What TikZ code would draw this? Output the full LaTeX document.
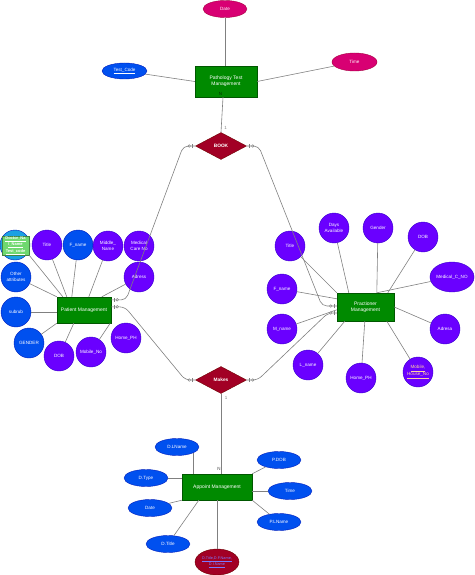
\documentclass[tikz,border=0pt]{standalone}
\usepackage{fontspec}
\setmainfont{Liberation Sans}
\usetikzlibrary{shapes.geometric}
\definecolor{entg}{HTML}{008A00}
\definecolor{entb}{HTML}{005700}
\definecolor{purp}{HTML}{6A00FF}
\definecolor{purpb}{HTML}{3700CC}
\definecolor{blu}{HTML}{0050EF}
\definecolor{blub}{HTML}{001DBC}
\definecolor{mag}{HTML}{D80073}
\definecolor{magb}{HTML}{A50040}
\definecolor{crim}{HTML}{A20025}
\definecolor{crimb}{HTML}{6F0000}
\definecolor{cyanb}{HTML}{1BA1E2}
\definecolor{lgreen}{HTML}{6FD86F}
\definecolor{linec}{HTML}{808080}
\definecolor{mobtxt}{HTML}{FFD0A0}
\definecolor{crimtxt}{HTML}{7A7AFF}
\begin{document}
\begin{tikzpicture}[x=1pt,y=-1pt,
  ent/.style={rectangle,draw=entb,fill=entg,text=white,inner sep=0,align=center,font=\fontsize{5}{6}\selectfont},
  attr/.style={circle,minimum size=30pt,inner sep=0,text=white,align=center,font=\fontsize{4.6}{5.4}\selectfont},
  pu/.style={attr,fill=purp,draw=purpb},
  bl/.style={attr,fill=blu,draw=blub},
  ell/.style={ellipse,minimum width=44pt,minimum height=17pt,inner sep=0,text=white,align=center,font=\fontsize{4.6}{5.4}\selectfont},
  el/.style={ell,fill=blu,draw=blub},
  em/.style={ell,fill=mag,draw=magb},
  rel/.style={diamond,fill=crim,draw=crimb,minimum width=51pt,minimum height=27pt,inner sep=0,text=white,font=\bfseries\fontsize{4.8}{5.6}\selectfont},
  ln/.style={draw=linec,line width=0.6pt},
  cn/.style={draw=linec,line width=0.6pt,rounded corners=5pt},
  mk/.style={draw=linec,fill=white,line width=0.5pt},
  lab/.style={font=\fontsize{4.5}{5}\selectfont,inner sep=0}
]
\useasboundingbox (0,0) rectangle (474,575);

% ---------- Pathology ----------
\node[ent,minimum width=62pt,minimum height=31pt] (path) at (226,81.5) {Pathology Test\\Management};
\node[em] (date) at (225,9) {Date};
\node[em,minimum width=45pt,minimum height=18pt] (time) at (354.5,62) {Time};
\node[el,minimum width=45pt,minimum height=16pt] (tcode) at (124.5,71) {\underline{Test\_Code}};
\node[rel] (book) at (221,146) {BOOK};

% ---------- Patient ----------
\node[ent,minimum width=54pt,minimum height=26pt] (pat) at (84,310) {Patient Management};
\node[attr,fill=cyanb,draw=blub] (docc) at (15,245) {};
\node[rectangle,fill=lgreen,draw=lgreen!60!black,minimum width=27pt,minimum height=19pt,inner sep=0,text=white,align=center,font=\bfseries\fontsize{4}{4.8}\selectfont] (doc) at (15.5,245.5) {\underline{Doctor\_Na}\\\underline{l\_Name}\\\underline{Test\_code}};
\node[pu] (ptitle) at (47,245) {Title};
\node[bl] (pfname) at (78,245) {F\_name};
\node[pu] (pmid) at (108,246) {Middle\_\\Name};
\node[pu] (pmed) at (139,246) {Medical\\Care No};
\node[bl] (pother) at (16,277) {Other\\attributes};
\node[pu] (padr) at (139,277) {Adress};
\node[bl] (psub) at (16,312) {subrub};
\node[bl] (pgen) at (29,343) {GENDER};
\node[pu] (pdob) at (59,356) {DOB};
\node[pu] (pmob) at (91,352) {Mobile\_No};
\node[pu] (phome) at (126,338) {Home\_PH};

% ---------- Practioner ----------
\node[ent,minimum width=57pt,minimum height=28pt] (prac) at (365.5,307) {Practioner\\Management};
\node[pu] (rtitle) at (290,246) {Title};
\node[pu] (rdays) at (334,228) {Days\\Available};
\node[pu] (rgen) at (378,228) {Gender};
\node[pu] (rdob) at (423,237) {DOB};
\node[pu,ellipse,minimum width=43pt,minimum height=30pt] (rmed) at (452,277) {Medical\_C\_NO};
\node[pu] (rfname) at (282,289) {F\_name};
\node[pu] (rmname) at (282,329) {M\_name};
\node[pu] (radr) at (445,329) {Adresa};
\node[pu] (rlname) at (308,365) {L\_name};
\node[pu] (rhome) at (361,378) {Home\_PH};
\node[pu,text=mobtxt] (rmob) at (418,372) {\underline{Mobile,}\\\underline{House\_No}};

% ---------- Makes / Appoint ----------
\node[rel] (makes) at (221,380) {Makes};
\node[ent,minimum width=70pt,minimum height=26pt] (app) at (217,487) {Appoint Management};
\node[el] (dlname) at (177,447) {D.LName};
\node[el] (apdob) at (279,460) {P.DOB};
\node[el] (dtype) at (146,478) {D.Type};
\node[el] (atime) at (290,491) {Time};
\node[el] (adate) at (150,508) {Date};
\node[el] (plname) at (279,522) {P.LName};
\node[el] (dtitle) at (168,544) {D.Title};
\node[ell,fill=crim,draw=crimb,minimum height=26pt,text=crimtxt,font=\fontsize{3.8}{4.6}\selectfont] (dnames) at (217,562) {\underline{D.Title,D.F.Name,}\\\underline{D.I.Name}};

% ---------- attribute lines ----------
\draw[ln] (date.south) -- (date.south |- path.north);
\draw[ln] (tcode) -- (path.west);
\draw[ln] (time) -- (path.east);
\draw[ln] ([xshift=-3pt]path.south) -- (book.north);

\draw[ln] (doc.south east) -- ([xshift=6pt]pat.north west);
\draw[ln] (pother) -- (pat.north west);
\draw[ln] (ptitle) -- ([xshift=10pt]pat.north west);
\draw[ln] (pfname) -- ([xshift=15pt]pat.north west);
\draw[ln] (pmid) -- ([xshift=32pt]pat.north west);
\draw[ln] (padr) -- ([xshift=45pt]pat.north west);
\draw[ln] (psub) -- (psub -| pat.west);
\draw[ln] (pgen) -- (pat.south west);
\draw[ln] (pdob) -- ([xshift=17pt]pat.south west);
\draw[ln] (pmob) -- ([xshift=-1pt]pat.south east);

\draw[ln] (rtitle) -- (prac.north west);
\draw[ln] (rdays) -- ([xshift=12pt]prac.north west);
\draw[ln] (rgen) -- ([xshift=40pt]prac.north west);
\draw[ln] (rdob) -- ([xshift=51pt]prac.north west);
\draw[ln] (rmed) -- ([xshift=40pt]prac.north west);
\draw[ln] (rfname) -- ([yshift=-6pt]prac.north west);
\draw[ln] (rmname) -- ([yshift=-17pt]prac.north west);
\draw[ln] (radr) -- (prac.east);
\draw[ln] (rlname) -- ([xshift=8pt]prac.south west);
\draw[ln] (rhome) -- ([xshift=28pt]prac.south west);
\draw[ln] (rmob) -- ([xshift=50pt]prac.south west);

\draw[ln] (dlname.-20) -- (dlname.-20 |- app.north);
\draw[ln] (apdob) -- (app.north east);
\draw[ln] (dtype) -- ([yshift=9pt]app.west);
\draw[ln] (atime) -- ([yshift=-4pt]app.east);
\draw[ln] (adate) -- (app.south west);
\draw[ln] (plname) -- (app.south east);
\draw[ln] (dtitle) -- ([xshift=17pt]app.south west);
\draw[ln] (dnames) -- (app.south);
\draw[ln] (makes.south) -- (makes.south |- app.north);

% ---------- relationship connectors ----------
\coordinate (pA) at ([yshift=-3pt]pat.north east);
\coordinate (pB) at ([yshift=-10pt]pat.north east);
\coordinate (rA) at ([yshift=1pt]prac.west);
\coordinate (rB) at ([yshift=-6pt]prac.west);
\draw[cn] (book.west) -- ++(-12,0) -- (126,300) -- (pA);
\draw[cn] (book.east) -- ++(12,0) -- (322,306) -- (rA);
\draw[cn] (makes.west) -- ++(-10,0) -- (125,307) -- (pB);
\draw[cn] (makes.east) -- ++(11,0) -- (328,313) -- (rB);

% ER marks
\foreach \p/\s in {book.west/-1, pA/1, makes.west/-1, pB/1, book.east/1, rA/-1, makes.east/1, rB/-1}{
  \draw[ln,line width=0.5pt] ([xshift=\s*3pt,yshift=-2pt]\p) -- ([xshift=\s*3pt,yshift=2pt]\p);
  \draw[mk] ([xshift=\s*6pt]\p) circle (1.3pt);
}

% cardinality labels
\node[lab,text=entb!60!black] (n1) at (220.5,93.5) {N};
\node[lab,text=linec] (o1) at (225.7,128) {1};
\node[lab,text=linec] (o2) at (226,398) {1};
\node[lab,text=black!70] (n2) at (219,468.5) {N};
\end{tikzpicture}
\end{document}
